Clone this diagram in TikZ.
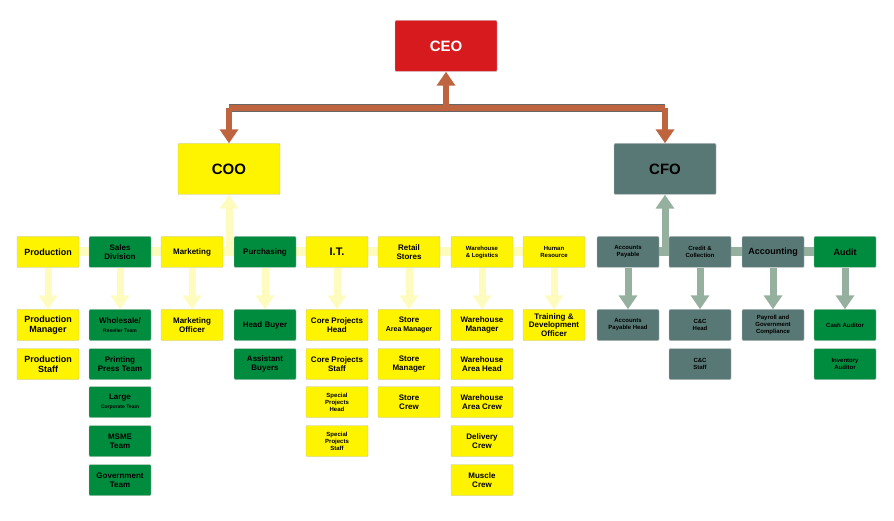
\documentclass[tikz,border=0pt]{standalone}
\usepackage{fontspec}
\setmainfont{Liberation Sans}
\usetikzlibrary{arrows.meta,backgrounds}
\definecolor{ceored}{RGB}{214,26,30}
\definecolor{boxyellow}{RGB}{255,244,0}
\definecolor{boxgreen}{RGB}{0,140,62}
\definecolor{boxslate}{RGB}{88,120,118}
\definecolor{linkbrown}{RGB}{190,100,62}
\definecolor{linkyellow}{RGB}{253,252,190}
\definecolor{linkgray}{RGB}{150,176,160}
\begin{document}
\begin{tikzpicture}[x=1pt, y=-1pt, font=\bfseries\fontsize{8}{8.5}\selectfont,
    box/.style = {draw=black!25, rounded corners=1pt, minimum width=62pt, minimum height=31pt, align=center, inner sep=1pt},
    ybox/.style = {box, fill=boxyellow},
    gbox/.style = {box, fill=boxgreen},
    sbox/.style = {box, fill=boxslate},
    big/.style = {minimum width=102pt, minimum height=51pt, font=\bfseries\fontsize{15}{16}\selectfont},
    tiny/.style = {font=\bfseries\fontsize{6}{7}\selectfont},
    ylink/.style = {linkyellow, line width=7pt, -{Triangle[width=18pt,length=14pt]}},
    glink/.style = {linkgray, line width=7pt, -{Triangle[width=18pt,length=14pt]}},
    blink/.style = {linkbrown, draw=black!60, line width=6pt}]
    \useasboundingbox (0,0) rectangle (894,521);
    % top
    \node[box, big, fill=ceored, text=white] (CEO) at (446,46) {CEO};
    \node[ybox, big] (COO) at (229,169) {COO};
    \node[sbox, big] (CFO) at (665,169) {CFO};
    % COO departments
    \node[ybox, font=\bfseries\fontsize{9}{10}\selectfont] (PR) at (48,252) {Production};
    \node[gbox] (SA) at (120,252) {Sales\\Division};
    \node[ybox] (MK) at (192,252) {Marketing};
    \node[gbox] (PU) at (265,252) {Purchasing};
    \node[ybox, font=\bfseries\fontsize{11}{12}\selectfont] (IT) at (337,252) {I.T.};
    \node[ybox] (RS) at (409,252) {Retail\\Stores};
    \node[ybox, tiny] (WH) at (482,252) {Warehouse\\\& Logistics};
    \node[ybox, tiny] (HR) at (554,252) {Human\\Resource};
    % CFO departments
    \node[sbox, tiny] (AP) at (628,252) {Accounts\\Payable};
    \node[sbox, tiny] (CC) at (700,252) {Credit \&\\Collection};
    \node[sbox, font=\bfseries\fontsize{9}{10}\selectfont] (AC) at (773,252) {Accounting};
    \node[gbox, font=\bfseries\fontsize{9}{10}\selectfont] (AU) at (845,252) {Audit};
    % staff
    \node[ybox, font=\bfseries\fontsize{9}{10}\selectfont] (PR1) at (48,325) {Production\\Manager};
    \node[ybox, font=\bfseries\fontsize{9}{10}\selectfont] (PR2) at (48,364) {Production\\Staff};
    \node[gbox] (SA1) at (120,325) {Wholesale/\\{\tiny\bfseries Reseller Team}};
    \node[gbox] (SA2) at (120,364) {Printing\\Press Team};
    \node[gbox] (SA3) at (120,402) {Large\\{\tiny\bfseries Corporate Team}};
    \node[gbox] (SA4) at (120,441) {MSME\\Team};
    \node[gbox] (SA5) at (120,480) {Government\\Team};
    \node[ybox] (MK1) at (192,325) {Marketing\\Officer};
    \node[gbox] (PU1) at (265,325) {Head Buyer};
    \node[gbox] (PU2) at (265,364) {Assistant\\Buyers};
    \node[ybox] (IT1) at (337,325) {Core Projects\\Head};
    \node[ybox] (IT2) at (337,364) {Core Projects\\Staff};
    \node[ybox, tiny] (IT3) at (337,402) {Special\\Projects\\Head};
    \node[ybox, tiny] (IT4) at (337,441) {Special\\Projects\\Staff};
    \node[ybox] (RS1) at (409,325) {Store\\{\fontsize{7}{8}\selectfont Area Manager}};
    \node[ybox] (RS2) at (409,364) {Store\\Manager};
    \node[ybox] (RS3) at (409,402) {Store\\Crew};
    \node[ybox] (WH1) at (482,325) {Warehouse\\Manager};
    \node[ybox] (WH2) at (482,364) {Warehouse\\Area Head};
    \node[ybox] (WH3) at (482,402) {Warehouse\\Area Crew};
    \node[ybox] (WH4) at (482,441) {Delivery\\Crew};
    \node[ybox] (WH5) at (482,480) {Muscle\\Crew};
    \node[ybox] (HR1) at (554,325) {Training \&\\Development\\Officer};
    \node[sbox, tiny] (AP1) at (628,325) {Accounts\\Payable Head};
    \node[sbox, tiny] (CC1) at (700,325) {C\&C\\Head};
    \node[sbox, tiny] (CC2) at (700,364) {C\&C\\Staff};
    \node[sbox, tiny] (AC1) at (773,325) {Payroll and\\Government\\Compliance};
    \node[gbox, tiny] (AU1) at (845,325) {Cash Auditor};
    \node[gbox, tiny] (AU2) at (845,364) {Inventory\\Auditor};
    \coordinate (cooj) at (229,252);
    \coordinate (cfoj) at (665,252);
    \coordinate (ceoj) at (446,108);
    \coordinate (cooT) at (229,108);
    \coordinate (cfoT) at (665,108);
    \begin{scope}[on background layer]
    \draw[linkyellow, line width=9pt] (PR.center) -- (HR.center);
    \draw[linkgray, line width=9pt] (AP.center) -- (AU.center);
    \draw[ylink] (cooj) -- (COO.south);
    \draw[glink] (cfoj) -- (CFO.south);
    \foreach \a/\b in {PR/PR1,SA/SA1,MK/MK1,PU/PU1,IT/IT1,RS/RS1,WH/WH1,HR/HR1}
        \draw[ylink] (\a.south) -- (\b.north);
    \foreach \a/\b in {AP/AP1,CC/CC1,AC/AC1,AU/AU1}
        \draw[glink] (\a.south) -- (\b.north);
    \end{scope}
    % CEO links
    \draw[black!60, line width=8pt] (cooT) -- (cfoT);
    \draw[linkbrown, line width=6pt] (cooT) -- (cfoT);
    \draw[linkbrown, line width=6pt, -{Triangle[width=18pt,length=14pt]}] (ceoj) -- (CEO.south);
    \draw[linkbrown, line width=6pt, -{Triangle[width=18pt,length=14pt]}] (cooT) -- (COO.north);
    \draw[linkbrown, line width=6pt, -{Triangle[width=18pt,length=14pt]}] (cfoT) -- (CFO.north);
\end{tikzpicture}
\end{document}
